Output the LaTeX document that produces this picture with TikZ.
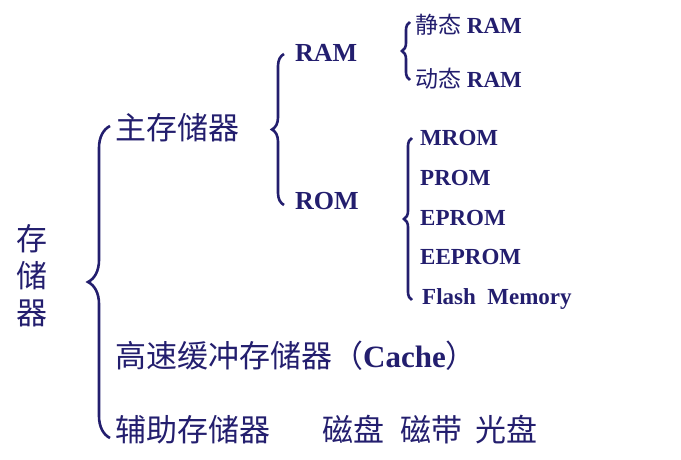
\documentclass[tikz,border=0pt]{standalone}
\usepackage{fontspec}
\setmainfont{Liberation Serif}
\newfontfamily\cjk{Noto Sans CJK SC}
\usetikzlibrary{decorations.pathreplacing}
\definecolor{navy}{RGB}{35,30,110}
\tikzset{
  br/.style={draw=navy,line width=2.6pt,decorate,decoration={brace,amplitude=#1}},
  zh/.style={text=navy,anchor=west,inner sep=0pt,font=\cjk\fontsize{31}{32}\selectfont},
  en/.style={text=navy,anchor=west,inner sep=0pt,font=\bfseries\fontsize{26}{28}\selectfont},
  sm/.style={text=navy,anchor=west,inner sep=0pt,font=\bfseries\fontsize{23}{25}\selectfont},
  smzh/.style={text=navy,anchor=west,inner sep=0pt,font=\fontsize{23}{25}\selectfont}
}
\begin{document}
\begin{tikzpicture}[x=1pt,y=-1pt]
\useasboundingbox (0,0) rectangle (681,460);
% root
\node[zh,anchor=center,align=center] (root) at (32,276) {存\\[5pt]储\\[5pt]器};
\draw[br=22pt] (110,438) -- (110,126);
% level 1
\node[zh] (main) at (115,128) {主存储器};
\node[zh] (cache) at (115,356) {高速缓冲存储器（{\rmfamily\bfseries Cache}）};
\node[zh] (aux) at (115,430) {辅助存储器\hspace{52pt}磁盘\hspace{16pt}磁带\hspace{13pt}光盘};
\draw[br=12pt] (284,205) -- (284,54);
% level 2
\node[en] (ram) at (295,53) {RAM};
\node[en] (rom) at (295,201) {ROM};
\draw[br=8pt] (410,80) -- (410,22);
\node[smzh] (sram) at (415,25) {{\cjk 静态} \textbf{RAM}};
\node[smzh] (dram) at (415,79) {{\cjk 动态} \textbf{RAM}};
\draw[br=8pt] (412,300) -- (412,138);
\node[sm] (m1) at (420,138) {MROM};
\node[sm] (m2) at (420,178) {PROM};
\node[sm] (m3) at (420,218) {EPROM};
\node[sm] (m4) at (420,257) {EEPROM};
\node[sm] (m5) at (422,299) {Flash\ \ Memory};
\end{tikzpicture}
\end{document}
